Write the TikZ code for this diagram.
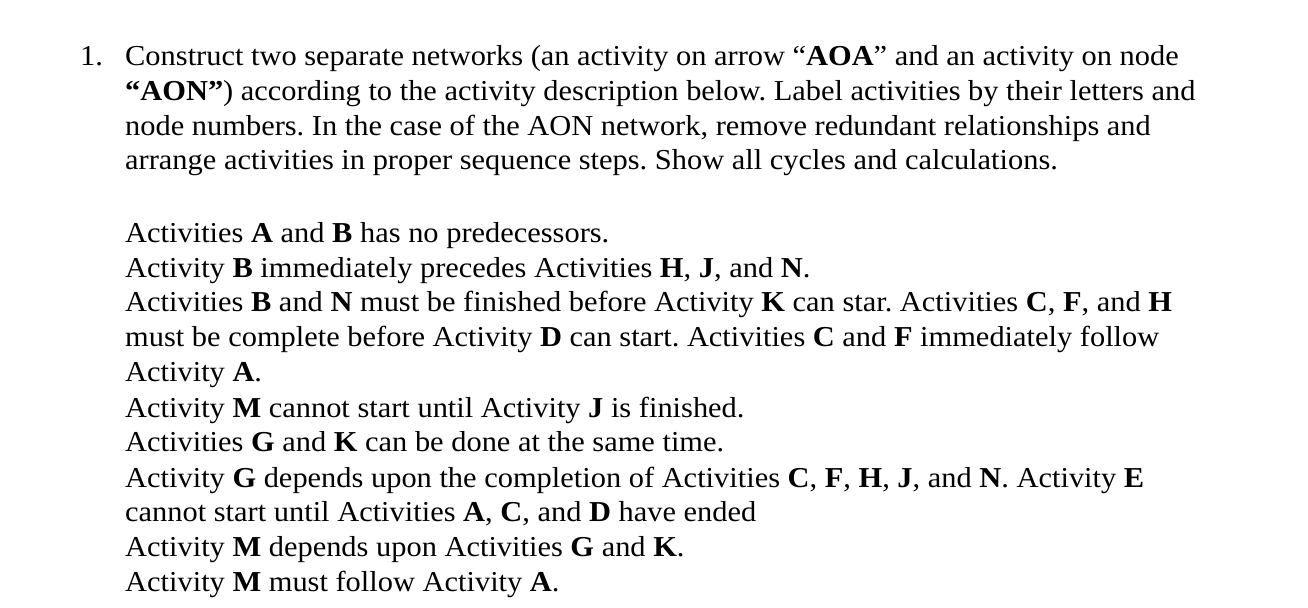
\documentclass[tikz,border=0pt]{standalone}
\usepackage{fontspec}
\setmainfont[FakeStretch=1.053]{Liberation Serif}
\frenchspacing
\begin{document}
\begin{tikzpicture}[x=1bp,y=-1bp,
  ln/.style={anchor=base west,inner sep=0pt,font=\fontsize{29}{34}\selectfont}]
\useasboundingbox (0,0) rectangle (1308,608);
\node[ln] (n) at (80,66) {1.};
\node[ln] (l1) at (125,66) {Construct two separate networks (an activity on arrow “\textbf{AOA}” and an activity on node};
\node[ln] (l2) at (125,101) {\textbf{“AON”}) according to the activity description below. Label activities by their letters and};
\node[ln] (l3) at (125,136) {node numbers. In the case of the AON network, remove redundant relationships and};
\node[ln] (l4) at (125,170) {arrange activities in proper sequence steps. Show all cycles and calculations.};
\node[ln] (a1) at (125,242) {Activities \textbf{A} and \textbf{B} has no predecessors.};
\node[ln] (a2) at (125,277) {Activity \textbf{B} immediately precedes Activities \textbf{H}, \textbf{J}, and \textbf{N}.};
\node[ln] (a3) at (125,311) {Activities \textbf{B} and \textbf{N} must be finished before Activity \textbf{K} can star. Activities \textbf{C}, \textbf{F}, and \textbf{H}};
\node[ln] (a4) at (125,346) {must be complete before Activity \textbf{D} can start. Activities \textbf{C} and \textbf{F} immediately follow};
\node[ln] (a5) at (125,381) {Activity \textbf{A}.};
\node[ln] (a6) at (125,417) {Activity \textbf{M} cannot start until Activity \textbf{J} is finished.};
\node[ln] (a7) at (125,451) {Activities \textbf{G} and \textbf{K} can be done at the same time.};
\node[ln] (a8) at (125,487) {Activity \textbf{G} depends upon the completion of Activities \textbf{C}, \textbf{F}, \textbf{H}, \textbf{J}, and \textbf{N}. Activity \textbf{E}};
\node[ln] (a9) at (125,521) {cannot start until Activities \textbf{A}, \textbf{C}, and \textbf{D} have ended};
\node[ln] (a10) at (125,556) {Activity \textbf{M} depends upon Activities \textbf{G} and \textbf{K}.};
\node[ln] (a11) at (125,591) {Activity \textbf{M} must follow Activity \textbf{A}.};
\end{tikzpicture}
\end{document}
